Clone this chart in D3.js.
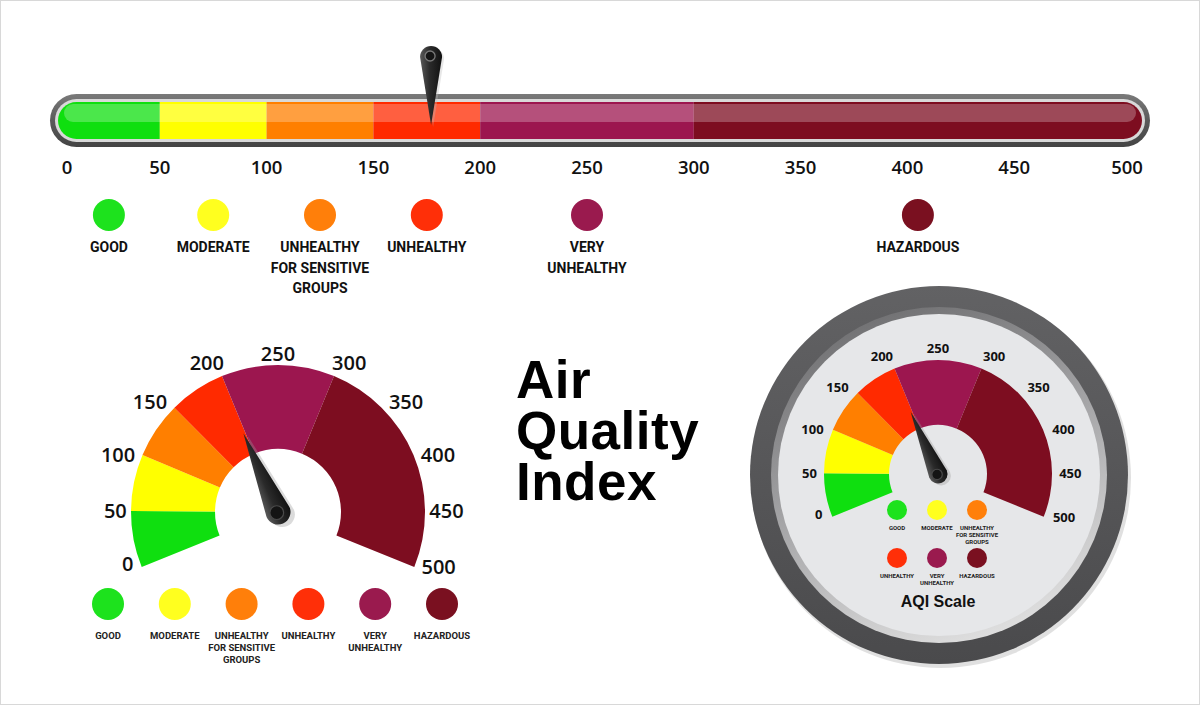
<!DOCTYPE html>
<html><head><meta charset="utf-8">
<script src="https://cdn.jsdelivr.net/npm/d3@7"></script>
<style>html,body{margin:0;padding:0;background:#fff;} svg{display:block}</style>
</head><body>
<svg id="c" width="1200" height="705"></svg>
<script>
// ---------- data ----------
const categories = ["GOOD","MODERATE","UNHEALTHY FOR SENSITIVE GROUPS","UNHEALTHY","VERY UNHEALTHY","HAZARDOUS"];
const categoryLines = [["GOOD"],["MODERATE"],["UNHEALTHY","FOR SENSITIVE","GROUPS"],["UNHEALTHY"],["VERY","UNHEALTHY"],["HAZARDOUS"]];
const bandLow  = [0, 50, 100, 150, 200, 300];
const bandHigh = [50, 100, 150, 200, 300, 500];
const bandColors = ["#0fdf0f","#ffff00","#ff7f00","#ff2a00","#9c164f","#7d0d20"];
const dotColors  = ["#1de21d","#ffff1f","#ff7f0a","#ff2f08","#9a1a4e","#7a1020"];
const tickValues = [0, 50, 100, 150, 200, 250, 300, 350, 400, 450, 500];
const tickLabels = ["0","50","100","150","200","250","300","350","400","450","500"];
const barPointerValue = 177;
const gaugeNeedleValue = 197;
const titleLines = ["Air","Quality","Index"];
const dialTitle = "AQI Scale";

// ---------- setup ----------
const svg = d3.select("#c");
const defs = svg.append("defs");
svg.append("rect").attr("x",0.5).attr("y",0.5).attr("width",1199).attr("height",704)
  .attr("fill","#fff").attr("stroke","#d8d8d8");

function lin(id, x1,y1,x2,y2, stops){
  const g = defs.append("linearGradient").attr("id",id)
    .attr("x1",x1).attr("y1",y1).attr("x2",x2).attr("y2",y2);
  stops.forEach(s=>g.append("stop").attr("offset",s[0]).attr("stop-color",s[1]));
}
lin("frameGrad",0,0,0,1,[[0,"#7a7a7a"],[0.5,"#5a5a5a"],[1,"#444"]]);
lin("needleGrad",0,0,1,0,[[0,"#5a5a5a"],[0.45,"#2a2a2a"],[1,"#111"]]);
lin("ringGrad",0,0,0,1,[[0,"#626264"],[1,"#4a4a4c"]]);
lin("silverGrad",0.3,0,0.7,1,[[0,"#6f6f71"],[0.5,"#a9a9ab"],[1,"#e2e2e2"]]);

const numFont = "'Open Sans', 'DejaVu Sans', sans-serif";
const labFont = "Roboto, 'Liberation Sans Narrow', 'DejaVu Sans Condensed', sans-serif";

// ---------- top bar ----------
const x = d3.scaleLinear().domain([0,500]).range([53,1121]);
const barL = 58, barR = 1142, barT = 102, barB = 139;

svg.append("rect").attr("x",50).attr("y",94).attr("width",1100).attr("height",53)
  .attr("rx",26.5).attr("fill","url(#frameGrad)");
svg.append("rect").attr("x",55).attr("y",99).attr("width",1090).attr("height",43)
  .attr("rx",21.5).attr("fill","#d9d9d9");

defs.append("clipPath").attr("id","barClip").append("rect")
  .attr("x",barL).attr("y",barT).attr("width",barR-barL).attr("height",barB-barT).attr("rx",18.5);

const barG = svg.append("g").attr("clip-path","url(#barClip)");
const segX0 = (d,i)=> i===0 ? barL : x(bandLow[i]);
const segX1 = (d,i)=> i===bandHigh.length-1 ? barR : x(bandHigh[i]);
barG.selectAll("rect.seg").data(bandColors).join("rect").attr("class","seg")
  .attr("x",segX0).attr("y",barT).attr("width",(d,i)=>segX1(d,i)-segX0(d,i))
  .attr("height",barB-barT).attr("fill",d=>d);
barG.append("rect").attr("x",barL+6).attr("y",barT+2).attr("width",barR-barL-12).attr("height",18)
  .attr("rx",9).attr("fill","#fff").attr("opacity",0.25);

// tick labels
const labelX = d3.scaleLinear().domain([0,50,450,500]).range([67,x(50),x(450),1127]);
svg.selectAll("text.tick").data(tickValues).join("text").attr("class","tick")
  .attr("x",d=>labelX(d)).attr("y",174).attr("text-anchor","middle")
  .attr("font-family",numFont).attr("font-weight",600).attr("font-size",18.5).attr("fill","#111")
  .text((d,i)=>tickLabels[i]);

// pointer
(function(){
  const px = x(barPointerValue);
  const g = svg.append("g").attr("transform",`translate(${px},57)`);
  g.append("path").attr("d","M-11,0 L0,68 L11,0 A11,11 0 0 0 -11,0 Z")
    .attr("fill","#bbb").attr("opacity",0.35).attr("transform","translate(2,2)");
  g.append("path").attr("d","M-11,0 L0,68 L11,0 A11,11 0 0 0 -11,0 Z").attr("fill","url(#needleGrad)");
  g.append("circle").attr("r",5).attr("cx",-1).attr("cy",-1).attr("fill","#151515").attr("stroke","#7a7a7a").attr("stroke-width",1.3);
})();

// top legend
const topLegX = bandColors.map((d,i)=>(segX0(d,i)+segX1(d,i))/2);
const topLeg = svg.selectAll("g.tleg").data(categories).join("g").attr("class","tleg")
  .attr("transform",(d,i)=>`translate(${topLegX[i]},215)`);
topLeg.append("circle").attr("r",16).attr("fill",(d,i)=>dotColors[i]);
topLeg.each(function(d,i){
  const t = d3.select(this).append("text").attr("text-anchor","middle")
    .attr("font-family",labFont).attr("font-weight",700).attr("font-size",14).attr("fill","#111");
  categoryLines[i].forEach((ln,j)=>t.append("tspan").attr("x",0).attr("y",37+j*20.5).text(ln));
});

// ---------- title ----------
svg.append("text").attr("font-family","'Liberation Sans', Arial, sans-serif").attr("font-weight",700)
  .attr("font-size",53).attr("letter-spacing",0.5).attr("fill","#000")
  .selectAll("tspan").data(titleLines).join("tspan")
  .attr("x",516).attr("y",(d,i)=>398+i*51).text(d=>d);

// ---------- gauge helper ----------
const ang = d3.scaleLinear().domain([0,500]).range([-112*Math.PI/180, 112*Math.PI/180]);
const labelSpread = 4.5*Math.PI/180;
function drawGauge(cx, cy, rIn, rOut, labelR, fs, fw, needleLen, baseR){
  const g = svg.append("g").attr("transform",`translate(${cx},${cy})`);
  const arc = d3.arc().innerRadius(rIn).outerRadius(rOut);
  g.selectAll("path.band").data(bandColors).join("path").attr("class","band")
    .attr("d",(d,i)=>arc({startAngle:ang(bandLow[i]), endAngle:ang(bandHigh[i])}))
    .attr("fill",d=>d);
  const cw = 0.58;
  g.selectAll("text.glab").data(tickValues).join("text").attr("class","glab")
    .each(function(v,i){
      const a0 = ang(v), a = a0 + labelSpread*Math.sin(2*a0);
      const w = tickLabels[i].length*cw*fs, h = fs*0.72;
      const R = labelR + (w/2)*Math.abs(Math.sin(a)) + (h/2)*Math.abs(Math.cos(a));
      d3.select(this).attr("x",R*Math.sin(a)).attr("y",-R*Math.cos(a)+fs*0.36);
    })
    .attr("text-anchor","middle")
    .attr("font-family",numFont).attr("font-size",fs).attr("font-weight",fw).attr("fill","#111")
    .text((d,i)=>tickLabels[i]);
  const deg = ang(gaugeNeedleValue)*180/Math.PI;
  const nd = `M${-baseR},0 L0,${-needleLen} L${baseR},0 A${baseR},${baseR} 0 0 1 ${-baseR},0 Z`;
  g.append("path").attr("d",nd).attr("fill","#999").attr("opacity",0.35)
    .attr("transform",`translate(${baseR*0.35},${baseR*0.2}) rotate(${deg})`);
  g.append("path").attr("d",nd).attr("fill","url(#needleGrad)").attr("transform",`rotate(${deg})`);
  g.append("circle").attr("r",baseR*0.55).attr("cx",-baseR*0.1).attr("cy",baseR*0.05)
    .attr("fill","#141414").attr("stroke","#4a4a4a").attr("stroke-width",1.2);
  return g;
}

// ---------- left gauge ----------
drawGauge(278, 512, 63, 147, 151, 20, 600, 86, 12.5);

const leftLegX = d3.scalePoint().domain(categories).range([108,442]);
const lLeg = svg.selectAll("g.lleg").data(categories).join("g").attr("class","lleg")
  .attr("transform",d=>`translate(${leftLegX(d)},604)`);
lLeg.append("circle").attr("r",16).attr("fill",(d,i)=>dotColors[i]);
lLeg.each(function(d,i){
  const t = d3.select(this).append("text").attr("text-anchor","middle")
    .attr("font-family",labFont).attr("font-weight",700).attr("font-size",9.5).attr("fill","#222");
  categoryLines[i].forEach((ln,j)=>t.append("tspan").attr("x",0).attr("y",35+j*12).text(ln));
});

// ---------- right gauge ----------
const rcx = 939, rcy = 475;
svg.append("circle").attr("cx",rcx+2).attr("cy",rcy+3).attr("r",190).attr("fill","#000").attr("opacity",0.12);
svg.append("circle").attr("cx",rcx).attr("cy",rcy).attr("r",189).attr("fill","url(#ringGrad)");
svg.append("circle").attr("cx",rcx).attr("cy",rcy).attr("r",168).attr("fill","url(#silverGrad)");
svg.append("circle").attr("cx",rcx).attr("cy",rcy).attr("r",161).attr("fill","#e6e7e9");

drawGauge(938, 474, 49, 114, 121, 13, 700, 68, 9.5);

const rightColX = d3.scalePoint().domain([0,1,2]).range([897,977]);
const rightRowY = [510, 558];
const rLeg = svg.selectAll("g.rleg").data(categories).join("g").attr("class","rleg")
  .attr("transform",(d,i)=>`translate(${rightColX(i%3)},${rightRowY[Math.floor(i/3)]})`);
rLeg.append("circle").attr("r",10).attr("fill",(d,i)=>dotColors[i]);
rLeg.each(function(d,i){
  const t = d3.select(this).append("text").attr("text-anchor","middle")
    .attr("font-family",labFont).attr("font-weight",700).attr("font-size",6).attr("fill","#222");
  categoryLines[i].forEach((ln,j)=>t.append("tspan").attr("x",0).attr("y",20+j*7).text(ln));
});

svg.append("text").attr("x",938).attr("y",607).attr("text-anchor","middle")
  .attr("font-family","'Liberation Sans', Arial, sans-serif").attr("font-weight",700)
  .attr("font-size",16).attr("fill","#111").text(dialTitle);
</script>
</body></html>
